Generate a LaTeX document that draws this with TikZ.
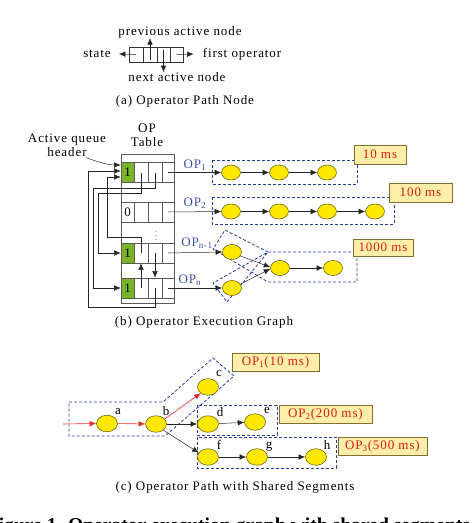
\documentclass[tikz,border=0pt]{standalone}
\usepackage{fontspec}
\setmainfont{Liberation Serif}[LetterSpace=7]
\newfontfamily\plainserif{Liberation Serif}
\usetikzlibrary{arrows.meta,shapes.geometric}
\definecolor{dblue}{RGB}{40,60,160}
\definecolor{opblue}{RGB}{60,80,170}
\definecolor{ellfill}{RGB}{255,232,0}
\definecolor{elldraw}{RGB}{110,100,20}
\definecolor{lblfill}{RGB}{255,238,170}
\definecolor{lbldraw}{RGB}{130,110,50}
\definecolor{lbltext}{RGB}{215,30,20}
\definecolor{cgreen}{RGB}{120,180,40}
\definecolor{tgray}{RGB}{90,90,90}
\definecolor{rarrow}{RGB}{230,40,40}
\begin{document}
\begin{tikzpicture}[x=1pt,y=-1pt,
  font=\fontsize{13}{15}\selectfont,
  arr/.style={-{Latex[length=6.5pt,width=5.5pt]}, line width=0.5pt, draw=black!85},
  rarr/.style={-{Latex[length=6.5pt,width=5.5pt]}, line width=0.6pt, draw=rarrow},
  cell/.style={draw=tgray, line width=0.6pt, minimum height=20pt, inner sep=0pt},
  acell/.style={draw=black!80, line width=0.6pt, minimum height=15pt, inner sep=0pt},
  opn/.style={ellipse, draw=elldraw, fill=ellfill, line width=0.6pt, minimum width=19pt, minimum height=15pt, inner sep=0pt},
  opc/.style={opn, minimum width=21pt, minimum height=16.5pt},
  grp/.style={draw=dblue, line width=0.8pt, dash pattern=on 3pt off 2pt},
  lbl/.style={draw=lbldraw, fill=lblfill, text=lbltext, line width=0.7pt, inner sep=0pt},
  oplab/.style={text=opblue, inner sep=0pt},
  txt/.style={inner sep=0pt}]
\useasboundingbox (0,0) rectangle (474,523);
\clip (0,0) rectangle (474,523);

% ---------- (a) ----------
\node[txt] (prev) at (180,32) {previous active node};
\node[txt] (state) at (97,54) {state};
\node[txt] (first) at (242,54) {first operator};
\node[txt] (next) at (177,77) {next active node};
\node[acell, minimum width=14pt] (a1) at (136,54.5) {};
\node[acell, minimum width=14pt] (a2) at (150,54.5) {};
\node[acell, minimum width=13pt] (a3) at (163.5,54.5) {};
\node[acell, minimum width=13pt] (a4) at (176.5,54.5) {};
\draw[arr] (a1.center) -- ([xshift=8pt]state.east);
\draw[arr] ([yshift=-5pt]a2.center) -- (a2.center |- prev.south);
\draw[arr] ([yshift=5pt]a3.center) -- (a3.center |- next.north);
\draw[arr] (a4.center) -- ([xshift=-9pt]first.west);
\node[txt] (capa) at (185,101) {(a) Operator Path Node};

% ---------- (b) table ----------
\node[txt, align=center] (hdr) at (67,145) {Active queue\\[-1pt]header};
\node[txt, align=center] (optab) at (147,135) {OP\\[-1pt]Table};
\node[draw=tgray, line width=0.6pt, minimum width=53pt, minimum height=149pt, inner sep=0pt] (tbl) at (147.5,228.5) {};
% row 1
\node[cell, minimum width=13pt, fill=cgreen] (r1c1) at (127.5,172.5) {1};
\node[cell, minimum width=14pt] (r1c2) at (141,172.5) {};
\node[cell, minimum width=14pt] (r1c3) at (155,172.5) {};
\node[cell, minimum width=12pt] (r1c4) at (168,172.5) {};
% row 2
\node[cell, minimum width=13pt] (r2c1) at (127.5,212) {0};
\node[cell, minimum width=14pt] (r2c2) at (141,212) {};
\node[cell, minimum width=14pt] (r2c3) at (155,212) {};
\node[cell, minimum width=12pt] (r2c4) at (168,212) {};
% row 3
\node[cell, minimum width=13pt, fill=cgreen] (r3c1) at (127.5,253) {1};
\node[cell, minimum width=14pt] (r3c2) at (141,253) {};
\node[cell, minimum width=14pt] (r3c3) at (155,253) {};
\node[cell, minimum width=12pt] (r3c4) at (168,253) {};
% row 4
\node[cell, minimum width=13pt, fill=cgreen] (r4c1) at (127.5,288) {1};
\node[cell, minimum width=14pt] (r4c2) at (141,288) {};
\node[cell, minimum width=14pt] (r4c3) at (155,288) {};
\node[cell, minimum width=12pt] (r4c4) at (168,288) {};
\node[inner sep=0pt, text=tgray] (dots) at (156,233) {\fontsize{9}{9}\selectfont$\vdots$};

% pointers
\draw[arr] ([xshift=19pt,yshift=-1pt]hdr.south) .. controls (98,162) and (108,165) .. ([yshift=7.5pt]r1c1.west);
\draw[arr] (r1c2.center) -- (141,193) -- (98,193) |- (r3c1.west);
\draw[arr] (r1c3.center) -- (155,188) -- (93,188) |- (r4c1.west);
\draw[arr] (r4c3.center) -- (155,307) -- (88,307) |- ([yshift=1.5pt]r1c1.west);
\draw[arr] (r3c2.center) -- (141,237) -- (107,237) |- ([yshift=-4.5pt]r1c1.west);
\draw[arr] (r4c2.center) -- (r3c2.south);
\draw[arr] (r3c3.center) -- (r4c3.north);

% ---------- (b) graph ----------
\draw[grp] (212,160) rectangle (357,184);
\draw[grp] (212,197) rectangle (394,224);
\draw[grp] (268,252) -- (357,252) -- (357,282) -- (268,282) -- (213,249) -- (225,230) -- (268,252) -- (213,283) -- (227,302) -- cycle;

\node[opn] (e11) at (231,172.5) {};
\node[opn] (e12) at (279,172.5) {};
\node[opn] (e13) at (327,172.5) {};
\node[opn] (e21) at (231,211.5) {};
\node[opn] (e22) at (279,211.5) {};
\node[opn] (e23) at (327,211.5) {};
\node[opn] (e24) at (375,211.5) {};
\node[opn] (eu) at (232,252) {};
\node[opn] (el) at (232,288) {};
\node[opn] (em) at (280,268) {};
\node[opn] (ez) at (333,268) {};

\draw[arr] (r1c4.center) -- (e11.west);
\draw[arr] (r2c4.center) -- (e21.west);
\draw[arr] (r3c4.center) -- (eu.west);
\draw[arr] (r4c4.center) -- (el.west);
\draw[arr] (e11) -- (e12);
\draw[arr] (e12) -- (e13);
\draw[arr] (e21) -- (e22);
\draw[arr] (e22) -- (e23);
\draw[arr] (e23) -- (e24);
\draw[arr] (eu.-25) -- (em.175);
\draw[arr] (el.25) -- (em.185);
\draw[arr] (em) -- (ez);

\node[oplab] (op1) at (195,165) {OP\textsubscript{1}};
\node[oplab] (op2) at (195,203) {OP\textsubscript{2}};
\node[oplab] (opn1) at (197,243) {OP\textsubscript{n-1}};
\node[oplab] (opnn) at (190,280) {OP\textsubscript{n}};

\node[lbl, minimum width=52pt, minimum height=19pt] (t1) at (380,154.5) {10 ms};
\node[lbl, minimum width=63pt, minimum height=19pt] (t2) at (420.5,192.5) {100 ms};
\node[lbl, minimum width=60pt, minimum height=17pt] (t3) at (383,247.5) {1000 ms};

\node[txt] (capb) at (204,322) {(b) Operator Execution Graph};

% ---------- (c) ----------
\draw[grp] (69,402) -- (163,402) -- (213,358) -- (234,376) -- (165,436) -- (69,436) -- cycle;
\draw[grp] (197,405) rectangle (277,435);
\draw[grp] (197,437) rectangle (336,468);

\coordinate (cin) at (63,424);
\node[opc] (na) at (107,423.5) {};
\node[opc] (nb) at (156,424) {};
\node[opc] (nc) at (208,387) {};
\node[opc] (nd) at (208,424) {};
\node[opc] (ne) at (255,422) {};
\node[opc] (nf) at (208,457) {};
\node[opc] (ng) at (257,457) {};
\node[opc] (nh) at (316,457) {};

\node[txt] at (118,412) {a};
\node[txt] at (166,411) {b};
\node[txt] at (219,373) {c};
\node[txt] at (220,412) {d};
\node[txt] at (267,410) {e};
\node[txt] at (219,445) {f};
\node[txt] at (269,447) {g};
\node[txt] at (327,445) {h};

\draw[rarr] (cin) -- (na.west);
\draw[rarr] (na) -- (nb);
\draw[rarr] (nb.30) -- (nc.220);
\draw[arr] (nb.east) -- (nd.west);
\draw[arr] (nb.-40) -- (nf.155);
\draw[arr] (nd) -- (ne);
\draw[arr] (nf) -- (ng);
\draw[arr] (ng) -- (nh);

\node[lbl, minimum width=87pt, minimum height=18pt] (l1) at (275.5,362) {OP\textsubscript{1}(10 ms)};
\node[lbl, minimum width=93pt, minimum height=18pt] (l2) at (325.5,414) {OP\textsubscript{2}(200 ms)};
\node[lbl, minimum width=89pt, minimum height=18pt] (l3) at (382.5,446) {OP\textsubscript{3}(500 ms)};

\node[txt] (capc) at (235,487) {(c) Operator Path with Shared Segments};

\node[anchor=base west, inner sep=0pt, font=\plainserif\bfseries\fontsize{19.6}{22}\selectfont] (fig) at (-13.4,531) {Figure 1. Operator execution graph with shared segments};
\end{tikzpicture}
\end{document}
